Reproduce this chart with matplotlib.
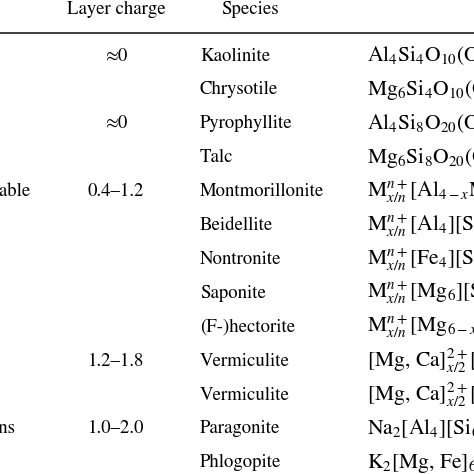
import matplotlib
matplotlib.use("Agg")
import matplotlib.pyplot as plt

plt.rcParams['font.family'] = ['STIXGeneral', 'DejaVu Serif']
plt.rcParams['mathtext.fontset'] = 'stix'

headers = ["Layer charge", "Species"]
groups = [("Swellable", 4), ("Interlayer ions", 11)]
charges = ["≈0", "", "≈0", "", "0.4–1.2", "", "", "", "", "1.2–1.8", "", "1.0–2.0", ""]
species = ["Kaolinite", "Chrysotile", "Pyrophyllite", "Talc", "Montmorillonite",
           "Beidellite", "Nontronite", "Saponite", "(F-)hectorite", "Vermiculite",
           "Vermiculite", "Paragonite", "Phlogopite"]
formulas = [r"$\mathrm{Al_4Si_4O_{10}(OH)_8}$",
            r"$\mathrm{Mg_6Si_4O_{10}(OH)_8}$",
            r"$\mathrm{Al_4Si_8O_{20}(OH)_4}$",
            r"$\mathrm{Mg_6Si_8O_{20}(OH)_4}$",
            r"$\mathrm{M}^{n+}_{x/n}\mathrm{[Al}_{4-x}\mathrm{Mg}_x\mathrm{][Si_8]O_{20}(OH)_4}$",
            r"$\mathrm{M}^{n+}_{x/n}\mathrm{[Al_4][Si}_{8-x}\mathrm{Al}_x\mathrm{]O_{20}(OH)_4}$",
            r"$\mathrm{M}^{n+}_{x/n}\mathrm{[Fe_4][Si}_{8-x}\mathrm{Al}_x\mathrm{]O_{20}(OH)_4}$",
            r"$\mathrm{M}^{n+}_{x/n}\mathrm{[Mg_6][Si}_{8-x}\mathrm{Al}_x\mathrm{]O_{20}(OH)_4}$",
            r"$\mathrm{M}^{n+}_{x/n}\mathrm{[Mg}_{6-x}\mathrm{Li}_x\mathrm{][Si_8]O_{20}(OH)_4}$",
            r"$\mathrm{[Mg,\,Ca]}^{2+}_{x/2}\mathrm{[Mg_6][Si}_{8-x}\mathrm{Al}_x\mathrm{]O_{20}(OH)_4}$",
            r"$\mathrm{[Mg,\,Ca]}^{2+}_{x/2}\mathrm{[Mg_6][Si}_{8-x}\mathrm{Al}_x\mathrm{]O_{20}(OH)_4}$",
            r"$\mathrm{Na_2[Al_4][Si_6Al_2]O_{20}(OH)_4}$",
            r"$\mathrm{K_2[Mg,\,Fe]_6[Si_6Al_2]O_{20}(OH)_4}$"]

fig = plt.figure(figsize=(4.74, 4.74), dpi=100)
ax = fig.add_axes([0, 0, 1, 1])
ax.set_xlim(0, 474)
ax.set_ylim(474, 0)
ax.axis('off')

fs = 13.5
ffs = 15.5
ax.text(116, 9, headers[0], ha='center', va='center', fontsize=fs)
ax.text(250, 9, headers[1], ha='center', va='center', fontsize=fs)
ax.plot([0, 474], [33, 33], color='#333333', lw=1.3)

y0, dy = 56, 33.9
for i in range(len(species)):
    y = y0 + i * dy
    if charges[i]:
        ax.text(116, y, charges[i], ha='center', va='center', fontsize=fs)
    ax.text(200, y, species[i], ha='left', va='center', fontsize=fs)
    ax.text(367, y, formulas[i], ha='left', va='center', fontsize=ffs)

ax.text(30, y0 + 4 * dy, groups[0][0], ha='right', va='center', fontsize=fs)
ax.text(15, y0 + 11 * dy, groups[1][0], ha='right', va='center', fontsize=fs)

fig.savefig("out.png", dpi=100)
